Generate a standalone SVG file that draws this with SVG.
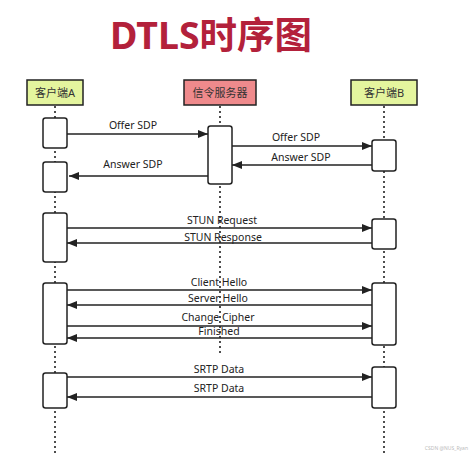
<svg xmlns="http://www.w3.org/2000/svg" width="474" height="454" viewBox="0 0 474 454">
<style>
.title{font-family:"Noto Sans","Noto Sans CJK SC",sans-serif;font-weight:bold;font-size:37px;fill:#b3213b}
.hd{stroke:#222;stroke-width:1.5}
.hdt{font-family:"Noto Sans","Noto Sans CJK SC",sans-serif;font-size:11px;fill:#333;text-anchor:middle}
.life{stroke:#222;stroke-width:1.6;stroke-dasharray:2 3;fill:none}
.act{fill:#fff;stroke:#222;stroke-width:1.5}
.msg{stroke:#222;stroke-width:1.5;fill:none}
.lbl{font-family:"Noto Sans","Noto Sans CJK SC",sans-serif;font-size:10.5px;fill:#222;text-anchor:middle}
</style>
<defs>
<marker id="ah" viewBox="0 0 10 8" refX="10" refY="4" markerWidth="10" markerHeight="8" markerUnits="userSpaceOnUse" orient="auto">
<path d="M0,0 L10,4 L0,8 Z" fill="#222"/>
</marker>
</defs>
<rect width="474" height="454" fill="#fff"/>
<text class="title" x="211" y="49" text-anchor="middle" textLength="202" lengthAdjust="spacingAndGlyphs">DTLS时序图</text>
<text x="468" y="450" font-family="Noto Sans, sans-serif" font-size="5px" fill="#bbb" text-anchor="end">CSDN @NUS_Ryan</text>
<g id="lifelines">
<line class="life" x1="55" y1="106" x2="55" y2="454"/>
<line class="life" x1="220" y1="106" x2="220" y2="354"/>
<line class="life" x1="384" y1="106" x2="384" y2="454"/>
</g>
<g id="clientA">
<rect class="hd" x="27" y="80" width="56" height="25" fill="#e4f59e"/>
<text class="hdt" x="55" y="96.5">客户端A</text>
</g>
<g id="server">
<rect class="hd" x="184" y="80" width="72" height="25" fill="#ef8a8c"/>
<text class="hdt" x="220" y="96.5">信令服务器</text>
</g>
<g id="clientB">
<rect class="hd" x="351" y="80" width="66" height="25" fill="#e4f59e"/>
<text class="hdt" x="384" y="96.5">客户端B</text>
</g>
<g id="activations">
<rect class="act" x="43" y="118" width="24" height="30" rx="2.5"/>
<rect class="act" x="43" y="162" width="24" height="30" rx="2.5"/>
<rect class="act" x="208" y="126" width="24" height="58" rx="2.5"/>
<rect class="act" x="372" y="140" width="24" height="31" rx="2.5"/>
<rect class="act" x="43" y="213" width="24" height="49" rx="2.5"/>
<rect class="act" x="372" y="219" width="24" height="30" rx="2.5"/>
<rect class="act" x="43" y="283" width="24" height="61" rx="2.5"/>
<rect class="act" x="372" y="283" width="24" height="62" rx="2.5"/>
<rect class="act" x="43" y="373" width="24" height="35" rx="2.5"/>
<rect class="act" x="372" y="367" width="24" height="41" rx="2.5"/>
</g>
<g id="connectors">
<line class="msg" x1="67" y1="134" x2="208" y2="134" marker-end="url(#ah)"/>
<line class="msg" x1="232" y1="146" x2="372" y2="146" marker-end="url(#ah)"/>
<line class="msg" x1="372" y1="165" x2="232" y2="165" marker-end="url(#ah)"/>
<line class="msg" x1="208" y1="176" x2="69" y2="176" marker-end="url(#ah)"/>
<line class="msg" x1="67" y1="228" x2="372" y2="228" marker-end="url(#ah)"/>
<line class="msg" x1="372" y1="243" x2="67" y2="243" marker-end="url(#ah)"/>
<line class="msg" x1="67" y1="290" x2="372" y2="290" marker-end="url(#ah)"/>
<line class="msg" x1="372" y1="305" x2="67" y2="305" marker-end="url(#ah)"/>
<line class="msg" x1="67" y1="326" x2="372" y2="326" marker-end="url(#ah)"/>
<line class="msg" x1="372" y1="338" x2="67" y2="338" marker-end="url(#ah)"/>
<line class="msg" x1="67" y1="377" x2="372" y2="377" marker-end="url(#ah)"/>
<line class="msg" x1="372" y1="397" x2="67" y2="397" marker-end="url(#ah)"/>
</g>
<g id="labels">
<text class="lbl" x="133" y="129">Offer SDP</text>
<text class="lbl" x="296" y="141">Offer SDP</text>
<text class="lbl" x="301" y="161">Answer SDP</text>
<text class="lbl" x="133" y="168">Answer SDP</text>
<text class="lbl" x="222" y="224">STUN Request</text>
<text class="lbl" x="223" y="241">STUN Response</text>
<text class="lbl" x="219" y="286">Client Hello</text>
<text class="lbl" x="218" y="302">Server Hello</text>
<text class="lbl" x="218" y="321">Change Cipher</text>
<text class="lbl" x="219" y="335">Finished</text>
<text class="lbl" x="219" y="373">SRTP Data</text>
<text class="lbl" x="219" y="392">SRTP Data</text>
</g>
</svg>
